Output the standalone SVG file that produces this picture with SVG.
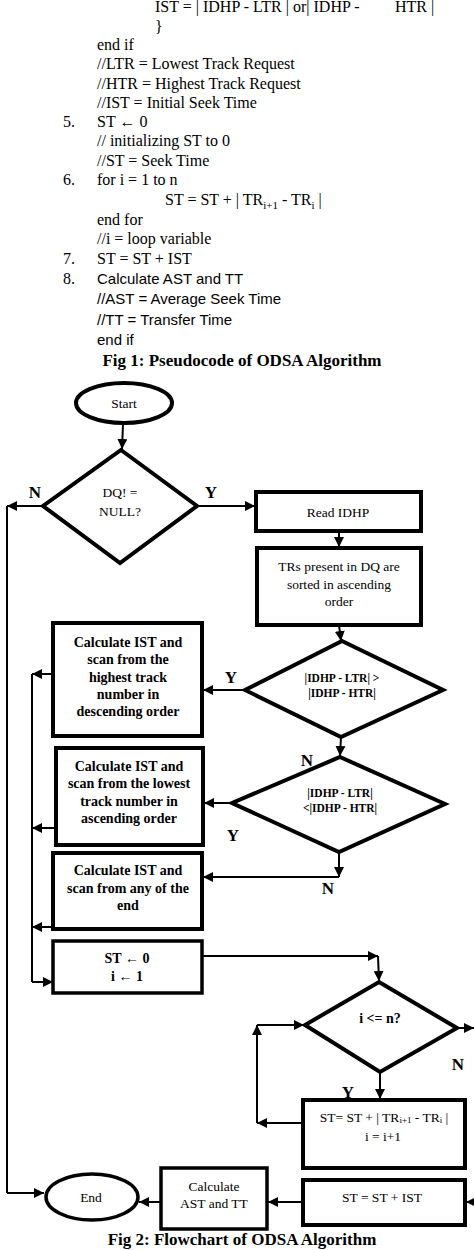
<svg xmlns="http://www.w3.org/2000/svg" width="474" height="1250" viewBox="0 0 474 1250">
<defs>
<marker id="ah" viewBox="0 0 10 10" refX="10" refY="5" markerWidth="10" markerHeight="10" markerUnits="userSpaceOnUse" orient="auto"><path d="M0,0 L10,5 L0,10 z" fill="#000"/></marker>
</defs>
<style>
.code{font-family:"Liberation Serif","Times New Roman",serif;font-size:16px;fill:#000}
.sans{font-family:"Liberation Sans",Arial,sans-serif;font-size:15px;fill:#000}
.cap{font-family:"Liberation Serif","Times New Roman",serif;font-size:17px;font-weight:bold;fill:#000}
.t{font-family:"Liberation Serif","Times New Roman",serif;font-size:13.5px;fill:#000;text-anchor:middle}
.b{font-family:"Liberation Serif","Times New Roman",serif;font-size:14px;font-weight:bold;fill:#000;text-anchor:middle}
.sb{font-family:"Liberation Serif","Times New Roman",serif;font-size:11.5px;font-weight:bold;fill:#000;text-anchor:middle}
.lab{font-family:"Liberation Serif","Times New Roman",serif;font-size:17px;font-weight:bold;fill:#000;text-anchor:middle}
.shape{fill:#fff;stroke:#000;stroke-width:4}
.thin{fill:#fff;stroke:#000;stroke-width:3.5}
.c{fill:none;stroke:#000;stroke-width:2}
.ca{fill:none;stroke:#000;stroke-width:2;marker-end:url(#ah)}
</style>
<rect width="474" height="1250" fill="#fff"/>
<g id="pseudocode">
<text class="code" y="12"><tspan x="155">IST = | IDHP - LTR | or| IDHP -</tspan><tspan x="395">HTR |</tspan></text>
<text class="code" x="155" y="32">}</text>
<text class="code" x="97" y="50">end if</text>
<text class="code" x="97" y="69">//LTR = Lowest Track Request</text>
<text class="code" x="97" y="89">//HTR = Highest Track Request</text>
<text class="code" x="97" y="108">//IST = Initial Seek Time</text>
<text class="code" x="63" y="127">5.</text>
<text class="code" x="97" y="127">ST ← 0</text>
<text class="code" x="97" y="146">// initializing ST to 0</text>
<text class="code" x="97" y="166">//ST = Seek Time</text>
<text class="code" x="63" y="185">6.</text>
<text class="code" x="97" y="185">for i = 1 to n</text>
<text class="code" x="165" y="205">ST = ST + | TR<tspan font-size="11" dy="4">i+1</tspan><tspan dy="-4"> - TR</tspan><tspan font-size="11" dy="4">i</tspan><tspan dy="-4"> |</tspan></text>
<text class="code" x="97" y="225">end for</text>
<text class="code" x="97" y="244">//i = loop variable</text>
<text class="code" x="63" y="264">7.</text>
<text class="code" x="97" y="264">ST = ST + IST</text>
<text class="code" x="63" y="284">8.</text>
<text class="sans" x="97" y="284">Calculate AST and TT</text>
<text class="sans" x="97" y="304">//AST = Average Seek Time</text>
<text class="sans" x="97" y="325">//TT = Transfer Time</text>
<text class="sans" x="97" y="345">end if</text>
<text class="cap" x="242" y="366" text-anchor="middle">Fig 1: Pseudocode of ODSA Algorithm</text>
</g>
<g id="connectors">
<path class="ca" d="M123,424 L122,449"/>
<path class="ca" d="M43,506 L7,506"/>
<path class="c" d="M7,506 L7,1193"/>
<path class="ca" d="M7,1193 L44,1193"/>
<path class="ca" d="M198,506 L255,506"/>
<path class="ca" d="M339,531 L339,547"/>
<path class="ca" d="M339,625 L341,641"/>
<path class="ca" d="M245,690 L203,690"/>
<path class="ca" d="M341,737 L340,756"/>
<path class="ca" d="M232,803 L204,803"/>
<path class="ca" d="M339,852 L339,877"/>
<path class="ca" d="M339,877 L203,877"/>
<path class="ca" d="M53,674 L32,674"/>
<path class="c" d="M32,674 L32,982"/>
<path class="ca" d="M55,828 L32,828"/>
<path class="ca" d="M53,927 L32,927"/>
<path class="ca" d="M32,982 L53,982"/>
<path class="ca" d="M202,956 L378,956"/>
<path class="ca" d="M378,956 L379,981"/>
<path class="ca" d="M457,1028 L474,1028"/>
<path class="ca" d="M380,1073 L380,1099"/>
<path class="ca" d="M303,1123 L257,1123"/>
<path class="ca" d="M257,1123 L257,1025"/>
<path class="ca" d="M257,1025 L304,1025"/>
<path class="ca" d="M476,1202 L466,1202"/>
<path class="ca" d="M303,1202 L268,1202"/>
<path class="ca" d="M161,1202 L139,1202"/>
</g>
<g id="start">
<ellipse class="shape" cx="124" cy="403" rx="48" ry="20"/>
<text class="t" x="124" y="408">Start</text>
</g>
<g id="dq-null">
<polygon class="shape" points="121,450 197,506 120,563 43,506"/>
<text class="t" x="120" y="497">DQ! =</text>
<text class="t" x="120" y="516">NULL?</text>
<text class="lab" x="35" y="498">N</text>
<text class="lab" x="211" y="498">Y</text>
</g>
<g id="read-idhp">
<rect class="shape" x="256" y="492" width="165" height="39"/>
<text class="t" x="338" y="517">Read IDHP</text>
</g>
<g id="sort">
<rect class="shape" x="257" y="548" width="164" height="77"/>
<text class="t" x="339" y="571">TRs present in DQ are</text>
<text class="t" x="339" y="589">sorted in ascending</text>
<text class="t" x="339" y="606">order</text>
</g>
<g id="cmp-gt">
<polygon class="shape" points="342,641 443,690 341,737 245,690"/>
<text class="sb" x="342" y="682">|IDHP - LTR| &gt;</text>
<text class="sb" x="342" y="697">|IDHP - HTR|</text>
<text class="lab" x="231" y="683">Y</text>
</g>
<g id="scan-high">
<rect class="shape" x="53" y="623" width="149" height="113"/>
<text class="b" x="128" y="647">Calculate IST and</text>
<text class="b" x="128" y="664">scan from the</text>
<text class="b" x="128" y="682">highest track</text>
<text class="b" x="128" y="699">number in</text>
<text class="b" x="128" y="716">descending order</text>
</g>
<g id="cmp-lt">
<polygon class="shape" points="340,757 445,804 339,852 232,803"/>
<text class="sb" x="340" y="797">|IDHP - LTR|</text>
<text class="sb" x="340" y="812">&lt;|IDHP - HTR|</text>
<text class="lab" x="307" y="766">N</text>
<text class="lab" x="233" y="841">Y</text>
<text class="lab" x="328" y="894">N</text>
</g>
<g id="scan-low">
<rect class="shape" x="56" y="748" width="147" height="97"/>
<text class="b" x="129" y="771">Calculate IST and</text>
<text class="b" x="129" y="788">scan from the lowest</text>
<text class="b" x="129" y="806">track number in</text>
<text class="b" x="129" y="823">ascending order</text>
</g>
<g id="scan-any">
<rect class="shape" x="53" y="853" width="149" height="76"/>
<text class="b" x="128" y="875">Calculate IST and</text>
<text class="b" x="128" y="893">scan from any of the</text>
<text class="b" x="128" y="910">end</text>
</g>
<g id="init">
<rect class="thin" x="53" y="941" width="149" height="52"/>
<text class="b" x="127" y="963">ST ← 0</text>
<text class="b" x="127" y="981">i ← 1</text>
</g>
<g id="loop-cond">
<polygon class="shape" points="379,982 457,1028 380,1072 305,1025"/>
<text class="b" x="380" y="1023">i &lt;= n?</text>
<text class="lab" x="458" y="1070" font-weight="normal" font-size="21">N</text>
<text class="lab" x="348" y="1098" font-size="20">Y</text>
</g>
<g id="loop-body">
<rect class="shape" x="303" y="1100" width="162" height="68"/>
<text class="t" x="384" y="1122">ST= ST + | TR<tspan font-size="9" dy="1">i+1</tspan><tspan dy="-1"> - TR</tspan><tspan font-size="9" dy="1">i</tspan><tspan dy="-1"> |</tspan></text>
<text class="t" x="383" y="1141">i = i+1</text>
</g>
<g id="st-ist">
<rect class="shape" x="303" y="1180" width="162" height="45"/>
<text class="t" x="382" y="1202">ST = ST + IST</text>
</g>
<g id="calc-ast">
<rect class="thin" x="161" y="1168" width="106" height="61"/>
<text class="t" x="214" y="1191">Calculate</text>
<text class="t" x="214" y="1208">AST and TT</text>
</g>
<g id="end">
<ellipse class="thin" cx="92" cy="1197" rx="46" ry="23"/>
<text class="t" x="91" y="1202">End</text>
</g>
<text class="cap" x="242" y="1245" text-anchor="middle">Fig 2: Flowchart of ODSA Algorithm</text>
</svg>
